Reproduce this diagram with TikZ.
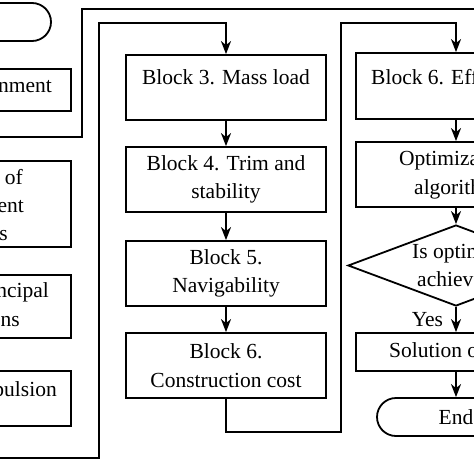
\documentclass[tikz,border=0pt]{standalone}
\usepackage{fontspec}
\setmainfont{Liberation Serif}
\usetikzlibrary{arrows.meta,shapes.geometric}
\tikzset{box/.style={draw, line width=1.8pt, minimum width=200pt, inner sep=0pt, align=center}}
\tikzset{term/.style={draw, line width=1.8pt, rounded corners=19pt, minimum width=158pt, minimum height=38pt, inner sep=0pt}}
\tikzset{decide/.style={draw, line width=1.8pt, diamond, minimum width=216pt, minimum height=81pt, inner sep=0pt}}
\tikzset{upper/.style={text height=15pt, text depth=22pt}}
\tikzset{frag/.style={inner sep=0pt}}
\tikzset{line/.style={line width=1.8pt}}
\tikzset{arr/.style={line width=1.8pt, -{Stealth[length=13pt,width=10pt,inset=4pt]}}}

\begin{document}
\begin{tikzpicture}[x=1pt,y=-1pt,font=\fontsize{21.5pt}{28.5pt}\selectfont]
\useasboundingbox (0,0) rectangle (474,474);
\clip (0,0) rectangle (474,474);
\node[term] (start) at (-28,22) {};
\node[box, minimum height=42pt] (asg) at (-29,90) {};
\node[box, minimum height=86pt] (elem) at (-29,204) {};
\node[box, minimum height=63pt] (princ) at (-29,306.5) {};
\node[box, minimum height=55pt] (prop) at (-29,398.5) {};
\node[frag, anchor=base east] (asgT) at (52,92) {nment};
\node[frag, anchor=base east] (elemA) at (23,184) {of};
\node[frag, anchor=base east] (elemB) at (24,212) {ent};
\node[frag, anchor=base east] (elemC) at (8,240) {s};
\node[frag, anchor=base east] (princA) at (49,297) {ncipal};
\node[frag, anchor=base east] (princB) at (20,326) {ns};
\node[frag, anchor=base east] (propT) at (57,396) {pulsion};
\node[box, minimum height=65pt, upper] (b3) at (226,87.5) {Block 3. Mass load};
\node[box, minimum height=65pt] (b4) at (226,179.5) {Block 4. Trim and\\stability};
\node[box, minimum height=65pt] (b5) at (226,273.5) {Block 5.\\Navigability};
\node[box, minimum height=65pt] (b6) at (226,365.5) {Block 6.\\Construction cost};
\node[box, minimum height=66pt] (eff) at (456,86) {};
\node[box, minimum height=65pt] (opt) at (456,174.5) {};
\node[decide] (ask) at (456,265.5) {};
\node[box, minimum height=38pt] (sol) at (456,352) {};
\node[term] (end) at (456,417) {End};
\node[frag, anchor=base west] (effT) at (371,84) {Block 6. Effi};
\node[frag, anchor=base west] (optA) at (399,165.5) {Optimiza};
\node[frag, anchor=base west] (optB) at (414,194) {algorith};
\node[frag, anchor=base west] (askA) at (412,258) {Is optim};
\node[frag, anchor=base west] (askB) at (417,286) {achiev};
\node[frag, anchor=base west] (solT) at (389,357) {Solution o};
\coordinate (inA) at (-10,137);
\coordinate (outA) at (484,9);
\coordinate (inB) at (-10,458);
\draw[line] (inA) -- ++(92,0) |- (outA);
\draw[arr] (inB) -| ++(109,-435) -| (b3.north);
\draw[arr] (b3) -- (b4);
\draw[arr] (b4) -- (b5);
\draw[arr] (b5) -- (b6);
\draw[arr] (b6.south) -- ++(0,33) -| ++(115,-409) -| (eff.north);
\draw[arr] (eff) -- (opt);
\draw[arr] (opt) -- (ask);
\draw[arr] (ask) -- (sol) node[midway, frag, left=12pt] {Yes};
\draw[arr] (sol) -- (end);
\end{tikzpicture}
\end{document}
